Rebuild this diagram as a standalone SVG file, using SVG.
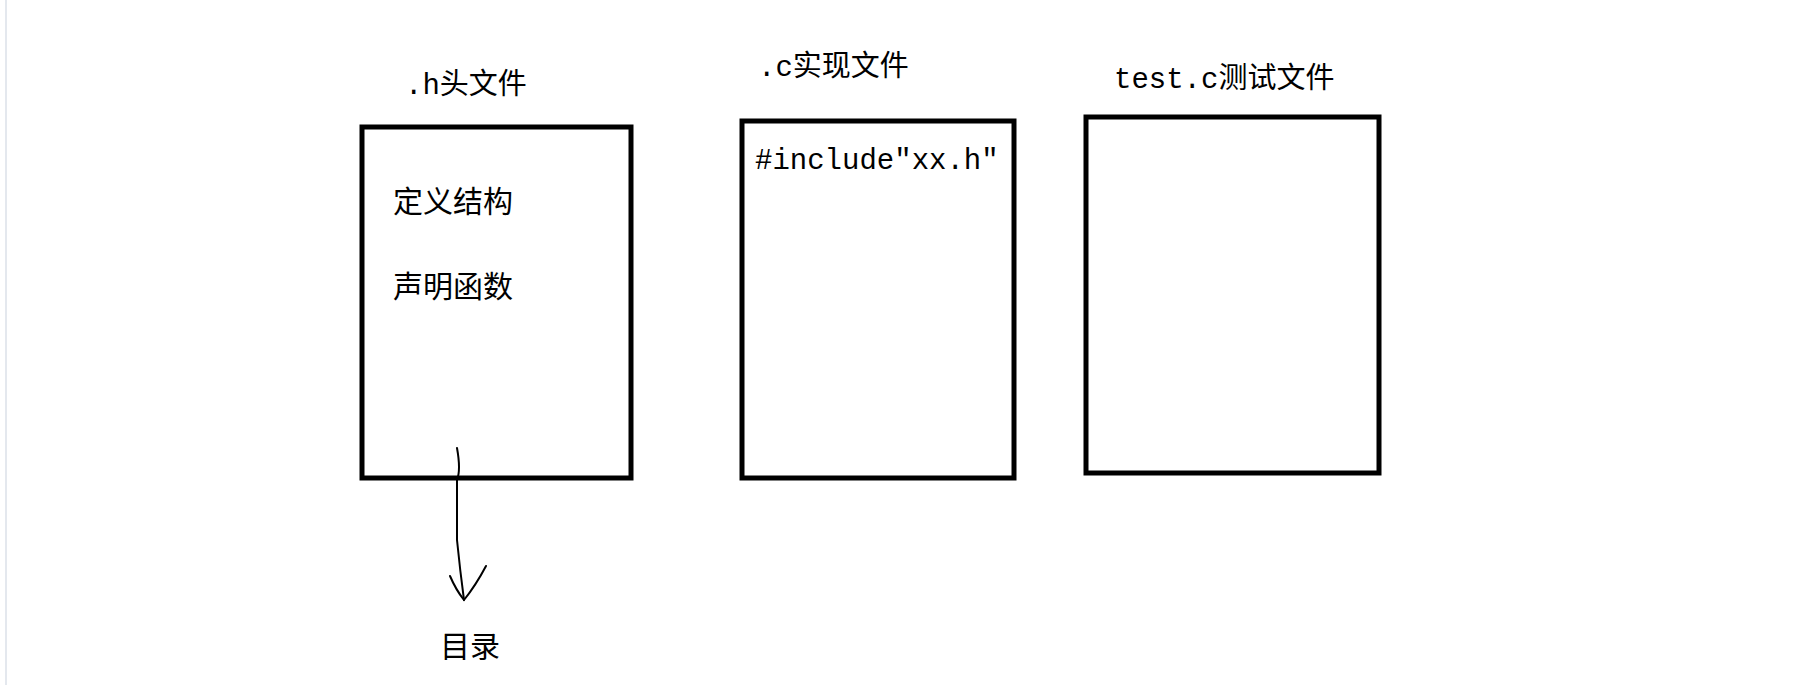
<svg xmlns="http://www.w3.org/2000/svg" width="1814" height="685" viewBox="0 0 1814 685">
<style>
.box{fill:#fff;stroke:#000;stroke-width:5}
.t{font-family:"Liberation Serif","Noto Sans CJK SC",serif;font-size:30px;fill:#000}
.m{font-family:"Liberation Mono","Noto Sans CJK SC",monospace;font-size:29px;fill:#000}
.c{fill:none;stroke:#000;stroke-width:2;stroke-linecap:round}
</style>
<rect width="1814" height="685" fill="#fff"/>
<line x1="6" y1="0" x2="6" y2="685" stroke="#e4e8ee" stroke-width="2"/>
<g id="hfile">
<rect class="box" x="362" y="127" width="269" height="351"/>
<text class="m" x="405" y="94">.h头文件</text>
<text class="t" x="393" y="212">定义结构</text>
<text class="t" x="393" y="297">声明函数</text>
</g>
<g id="cfile">
<rect class="box" x="742" y="121" width="272" height="357"/>
<text class="m" x="758" y="76">.c实现文件</text>
<text class="m" x="755" y="169">#include″xx.h″</text>
</g>
<g id="testfile">
<rect class="box" x="1086" y="117" width="293" height="356"/>
<text class="m" x="1114" y="88">test.c测试文件</text>
</g>
<g id="dir">
<text class="t" x="440" y="657">目录</text>
</g>
<g id="connectors">
<path class="c" d="M457,448 Q461,470 457,480 L457,540 Q460,570 464,600"/>
<path class="c" d="M450,576 Q456,590 464,600 Q476,585 486,566"/>
</g>
</svg>
